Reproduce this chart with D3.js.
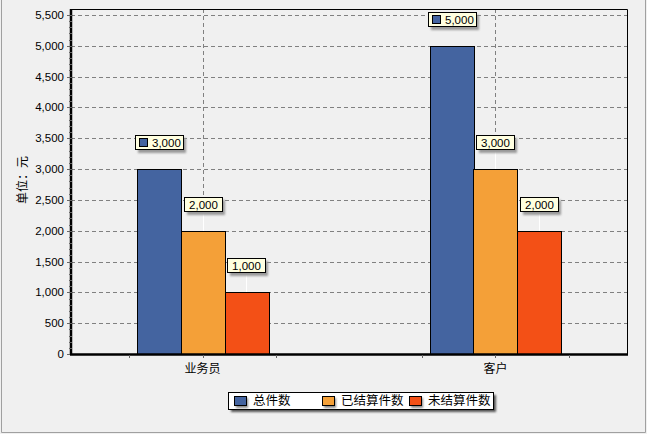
<!DOCTYPE html>
<html><head><meta charset="utf-8">
<script src="https://cdn.jsdelivr.net/npm/d3@7"></script>
<style>
html,body{margin:0;padding:0;background:#f0f0f0;}
svg{display:block;}
text{font-family:"Liberation Sans",Arial,sans-serif;}
.cjk{font-family:"Noto Sans CJK SC","Liberation Sans",sans-serif;}
</style></head>
<body>
<svg id="c" width="647" height="434"></svg>
<script>
const categories = ["业务员", "客户"];
const seriesNames = ["总件数", "已结算件数", "未结算件数"];
const totalCount = [3000, 5000];
const settledCount = [2000, 3000];
const unsettledCount = [1000, 2000];
const yTicks = [0,500,1000,1500,2000,2500,3000,3500,4000,4500,5000,5500];
const yTitle = "单位：元";
const colors = ["#4464a0", "#f4a038", "#f35016"];

const seriesValues = [totalCount, settledCount, unsettledCount];
const svg = d3.select("#c");
const W = 647, H = 434;
const L = 71, R = 627, T = 9, B = 354;

svg.append("rect").attr("x",0).attr("y",0).attr("width",W).attr("height",H).attr("fill","#f0f0f0");
svg.append("path").attr("d",`M1.5,0 V432.5 H645.5 V0`).attr("fill","none").attr("stroke","#a0a0a0");

const y = d3.scaleLinear().domain([0,5500]).range([B, 15]);
const x = d3.scalePoint().domain(categories).range([L, R]).padding(0.449);
const step = x.step();
const groupW = step * 0.45;
const xs = d3.scaleBand().domain(seriesNames).range([-groupW/2, groupW/2]).padding(0);

const defs = svg.append("defs");
const f = defs.append("filter").attr("id","sh").attr("x","-20%").attr("y","-20%").attr("width","150%").attr("height","160%");
f.append("feGaussianBlur").attr("stdDeviation",1);

// grid
const grid = svg.append("g");
yTicks.filter(d=>d>0).forEach(d=>{
  grid.append("line").attr("x1",L).attr("x2",R).attr("y1",Math.round(y(d))+0.5).attr("y2",Math.round(y(d))+0.5)
    .attr("stroke","#808080").attr("stroke-dasharray","4,3");
});
categories.forEach(c=>{
  grid.append("line").attr("x1",Math.round(x(c))+0.5).attr("x2",Math.round(x(c))+0.5).attr("y1",T).attr("y2",B)
    .attr("stroke","#808080").attr("stroke-dasharray","4,3");
});

// plot border (top & right)
svg.append("path").attr("d",`M${L},${T+0.5} H${R+0.5} V${B}`).attr("fill","none").attr("stroke","#000");

// bars
const bars = svg.append("g");
categories.forEach((c,i)=>{
  seriesNames.forEach((s,j)=>{
    const v = seriesValues[j][i];
    const x0 = x(c) + xs(s);
    bars.append("rect").attr("x",Math.round(x0)+0.5).attr("y",Math.round(y(v))+0.5)
      .attr("width",Math.round(xs.bandwidth())).attr("height",Math.round(B - y(v)))
      .attr("fill",colors[j]).attr("stroke","#000");
  });
});

// axes
const yAxis = svg.append("g");
yAxis.append("line").attr("x1",L).attr("x2",L).attr("y1",T).attr("y2",B+1).attr("stroke","#000").attr("stroke-width",2.5);
d3.range(0,5501,100).forEach(d=>{
  const major = d % 500 === 0;
  const yy = Math.round(y(d))+0.5;
  yAxis.append("line").attr("x1",major?L-4:L-2).attr("x2",L+1).attr("y1",yy).attr("y2",yy).attr("stroke","#666");
});
yTicks.forEach(d=>{
  yAxis.append("text").attr("x",64).attr("y",y(d)).attr("dy","0.35em").attr("text-anchor","end")
    .attr("font-size",11.5).attr("fill","#000").text(d3.format(",")(d));
});
svg.append("line").attr("x1",L-1).attr("x2",R+1).attr("y1",B+0.5).attr("y2",B+0.5).attr("stroke","#000").attr("stroke-width",2.5);
categories.forEach(c=>{
  [-step/4, 0, step/4].forEach(o=>{
    const xx = Math.round(x(c)+o)+0.5;
    svg.append("line").attr("x1",xx).attr("x2",xx).attr("y1",B+1).attr("y2",B+4).attr("stroke","#666");
  });
  svg.append("text").attr("class","cjk").attr("x",x(c)).attr("y",369).attr("dy","0.35em").attr("text-anchor","middle")
    .attr("font-size",12).text(c);
});

svg.append("text").attr("class","cjk").attr("transform",`translate(27,180) rotate(-90)`).attr("text-anchor","middle")
  .attr("font-size",12).text(yTitle);

// value labels
const lab = svg.append("g");
categories.forEach((c,i)=>{
  seriesNames.forEach((s,j)=>{
    const v = seriesValues[j][i];
    const cx = x(c) + xs(s) + xs.bandwidth()/2;
    const top = Math.round(y(v));
    const bh = 14, bb = top - 20;
    const txt = d3.format(",")(v);
    const bw = j===0 ? 48 : 38;
    const bx = Math.round(cx - bw/2);
    if (j>0) {
      lab.append("line").attr("x1",Math.round(cx)+0.5).attr("x2",Math.round(cx)+0.5).attr("y1",bb).attr("y2",top)
        .attr("stroke","#fff");
    }
    lab.append("rect").attr("x",bx+3).attr("y",bb-bh+3).attr("width",bw).attr("height",bh+1).attr("fill","#999").attr("filter","url(#sh)");
    lab.append("rect").attr("x",bx+0.5).attr("y",bb-bh+0.5).attr("width",bw).attr("height",bh).attr("fill","#ffffe0").attr("stroke","#000");
    if (j===0) {
      lab.append("rect").attr("x",bx+4.5).attr("y",bb-bh+3.5).attr("width",8).attr("height",8).attr("fill",colors[0]).attr("stroke","#000");
      lab.append("text").attr("x",bx+17).attr("y",bb-bh/2+0.5).attr("dy","0.35em").attr("font-size",11.5).text(txt);
    } else {
      lab.append("text").attr("x",bx+bw/2+0.5).attr("y",bb-bh/2+0.5).attr("dy","0.35em").attr("text-anchor","middle").attr("font-size",11.5).text(txt);
    }
  });
});

// legend
const lg = svg.append("g");
const lx = 228, ly = 392, lw = 265, lh = 17;
lg.append("rect").attr("x",lx+3).attr("y",ly+3).attr("width",lw).attr("height",lh).attr("fill","#555").attr("filter","url(#sh)");
lg.append("rect").attr("x",lx+0.5).attr("y",ly+0.5).attr("width",lw).attr("height",lh).attr("fill","#fff").attr("stroke","#000");
const itemX = [234, 322, 409];
seriesNames.forEach((s,j)=>{
  const sx = itemX[j];
  lg.append("rect").attr("x",sx+2).attr("y",ly+6).attr("width",12).attr("height",10).attr("fill","#888").attr("filter","url(#sh)");
  lg.append("rect").attr("x",sx+0.5).attr("y",ly+4.5).attr("width",12).attr("height",9).attr("fill",colors[j]).attr("stroke","#000");
  lg.append("text").attr("class","cjk").attr("x",sx+19).attr("y",ly+9).attr("dy","0.35em").attr("font-size",12.5).text(s);
});
</script>
</body></html>
